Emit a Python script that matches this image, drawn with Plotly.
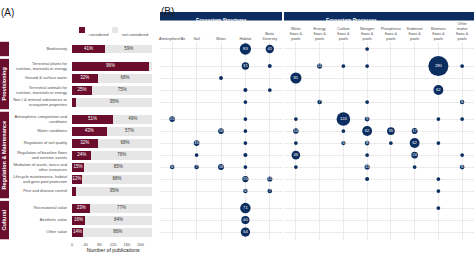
import math
import plotly.graph_objects as go

# ---------------- data ----------------
categories = [
    "Biodiversity",
    "Terrestrial plants for<br>nutrition, materials or energy",
    "Ground & surface water",
    "Terrestrial animals for<br>nutrition, materials or energy",
    "Non-/ & mineral substances or<br>ecosystem properties",
    "Atmospheric composition and<br>conditions",
    "Water conditions",
    "Regulation of soil quality",
    "Regulation of baseline flows<br>and extreme events",
    "Mediation of waste, toxics and<br>other nuisances",
    "Lifecycle maintenance, habitat<br>and gene pool protection",
    "Pest and disease control",
    "Recreational value",
    "Aesthetic value",
    "Other value",
]
groups = [0, 1, 1, 1, 1, 2, 2, 2, 2, 2, 2, 2, 3, 3, 3]
group_names = ["", "Provisioning", "Regulation & Maintenance", "Cultural"]
considered_pct = [41, 96, 32, 25, 5, 51, 43, 32, 24, 15, 12, 5, 23, 16, 14]
total_publications = 234
x_ticks = [0, 40, 80, 120, 160, 200]

structure_cols = ["Atmosphere/Air", "Soil", "Water", "Habitat", "Biotic<br>Diversity"]
process_cols = ["Water<br>flows &<br>pools", "Energy<br>flows &<br>pools", "Carbon<br>flows &<br>pools",
                "Nitrogen<br>flows &<br>pools", "Phosphorus<br>flows &<br>pools", "Sediment<br>flows &<br>pools",
                "Biomass<br>flows &<br>pools", "Other<br>matter<br>flows &<br>pools"]

# counts: rows = categories, columns = structure_cols + process_cols
counts = [
    [0, 0, 0, 83, 41, 0, 0, 0, 2, 0, 0, 0, 0],
    [0, 0, 0, 31, 3, 0, 11, 2, 2, 0, 0, 280, 2],
    [0, 0, 3, 0, 0, 81, 0, 0, 0, 0, 0, 0, 0],
    [0, 0, 0, 4, 2, 0, 0, 0, 0, 0, 0, 62, 0],
    [0, 0, 0, 2, 0, 0, 7, 0, 2, 0, 0, 0, 6],
    [15, 0, 0, 2, 0, 2, 0, 124, 9, 0, 0, 2, 2],
    [0, 0, 16, 2, 0, 14, 0, 2, 62, 35, 17, 0, 0],
    [0, 15, 0, 2, 0, 2, 0, 5, 8, 2, 62, 2, 0],
    [0, 2, 0, 4, 0, 46, 0, 0, 2, 0, 24, 0, 2],
    [6, 7, 18, 2, 0, 2, 0, 0, 11, 0, 2, 0, 8],
    [0, 0, 0, 20, 11, 0, 0, 0, 4, 0, 0, 2, 0],
    [0, 0, 0, 6, 7, 0, 0, 0, 0, 0, 0, 2, 0],
    [0, 0, 0, 71, 0, 0, 0, 0, 0, 0, 0, 2, 0],
    [0, 0, 0, 40, 0, 0, 0, 0, 0, 0, 0, 0, 0],
    [0, 0, 0, 54, 0, 0, 0, 0, 0, 0, 0, 0, 0],
]

# ---------------- style ----------------
W, H = 474, 253
MAROON = "#6b0d2c"
GREY = "#e6e6e6"
NAVY = "#0b2d5f"
FONT = "Liberation Sans, Arial, sans-serif"
TXT = "#4d4d4d"

def xp(px):
    return px / W

def yp(py):
    return 1 - py / H

GAP = 0.42
row_pos = [i + GAP * g for i, g in enumerate(groups)]
y_range = [15.92, -0.583]
y_dom = [yp(240), yp(42)]

def y_to_paper(v):
    return y_dom[0] + (y_range[0] - v) / (y_range[0] - y_range[1]) * (y_dom[1] - y_dom[0])

considered = [p / 100 * total_publications for p in considered_pct]
not_considered = [total_publications - c for c in considered]

fig = go.Figure()

fig.add_trace(go.Bar(x=considered, y=row_pos, orientation="h", marker=dict(color=MAROON, line=dict(width=0)),
                     width=0.75, xaxis="x", yaxis="y", showlegend=False, hoverinfo="skip"))
fig.add_trace(go.Bar(x=not_considered, y=row_pos, orientation="h", marker=dict(color=GREY, line=dict(width=0)),
                     width=0.75, xaxis="x", yaxis="y", showlegend=False, hoverinfo="skip"))

# bar labels
cx, cy, ct, nx, ny, nt = [], [], [], [], [], []
for p, c, n, y in zip(considered_pct, considered, not_considered, row_pos):
    if p >= 10:
        cx.append(c / 2); cy.append(y); ct.append(f"{p}%")
    if 100 - p >= 10:
        nx.append(c + n / 2); ny.append(y); nt.append(f"{100 - p}%")
fig.add_trace(go.Scatter(x=cx, y=cy, text=ct, mode="text", textfont=dict(size=4.5, color="white", family=FONT),
                         xaxis="x", yaxis="y", showlegend=False, hoverinfo="skip"))
fig.add_trace(go.Scatter(x=nx, y=ny, text=nt, mode="text", textfont=dict(size=4.5, color="#333333", family=FONT),
                         xaxis="x", yaxis="y", showlegend=False, hoverinfo="skip"))

# bubbles
def bubble_trace(col_offset, ncols, xa, ya):
    bx, by, bs, bt = [], [], [], []
    for r, row in enumerate(counts):
        for j in range(ncols):
            v = row[col_offset + j]
            if v > 0:
                bx.append(j + 1); by.append(row_pos[r])
                bs.append(math.sqrt(11 + 1.4 * v))
                bt.append(str(v) if v >= 5 else "")
    return go.Scatter(x=bx, y=by, mode="markers+text", text=bt, textposition="middle center",
                      textfont=dict(size=4.2, color="white", family=FONT),
                      marker=dict(size=bs, sizemode="diameter", color=NAVY, opacity=1, line=dict(width=0)),
                      xaxis=xa, yaxis=ya, showlegend=False, hoverinfo="skip")

fig.add_trace(bubble_trace(0, len(structure_cols), "x2", "y2"))
fig.add_trace(bubble_trace(len(structure_cols), len(process_cols), "x3", "y3"))

grid = "#ebebeb"
col_font = dict(size=3.8, color=TXT, family=FONT)
fig.update_layout(
    width=W, height=H, margin=dict(l=0, r=0, t=0, b=0),
    paper_bgcolor="white", plot_bgcolor="white", barmode="stack", bargap=0,
    font=dict(family=FONT),
    xaxis=dict(domain=[xp(72), xp(154.4)], range=[0, 240], anchor="y", tickvals=x_ticks,
               tickfont=dict(size=4, color=TXT, family=FONT), showgrid=False, zeroline=False,
               showline=False, ticks="", ticklabelstandoff=1,
               title=dict(text="Number of publications", font=dict(size=5.2, color="#1a1a1a", family=FONT), standoff=0)),
    yaxis=dict(domain=y_dom, range=y_range, anchor="x", tickvals=row_pos, ticktext=categories,
               tickfont=dict(size=4, color=TXT, family=FONT), showgrid=False, zeroline=False,
               showline=False, ticks="", ticklabelstandoff=4),
    xaxis2=dict(domain=[xp(160), xp(282)], range=[0.5, 5.5], anchor="y2", side="top",
                tickvals=list(range(1, len(structure_cols) + 1)), ticktext=structure_cols,
                tickfont=col_font, showgrid=True, gridcolor=grid, gridwidth=0.6, zeroline=False,
                showline=False, ticks="", ticklabelstandoff=0),
    yaxis2=dict(domain=y_dom, range=y_range, anchor="x2", tickvals=row_pos, showticklabels=False,
                showgrid=True, gridcolor=grid, gridwidth=0.6, zeroline=False, ticks=""),
    xaxis3=dict(domain=[xp(284), 1], range=[0.5, 8.5], anchor="y3", side="top",
                tickvals=list(range(1, len(process_cols) + 1)), ticktext=process_cols,
                tickfont=col_font, showgrid=True, gridcolor=grid, gridwidth=0.6, zeroline=False,
                showline=False, ticks="", ticklabelstandoff=0),
    yaxis3=dict(domain=y_dom, range=y_range, anchor="x3", tickvals=row_pos, showticklabels=False,
                showgrid=True, gridcolor=grid, gridwidth=0.6, zeroline=False, ticks=""),
)

shapes, annotations = [], []
# left strips
for g, name in enumerate(group_names):
    ys = [p for p, gg in zip(row_pos, groups) if gg == g]
    y0, y1 = y_to_paper(max(ys) + 0.6), y_to_paper(min(ys) - 0.6)
    shapes.append(dict(type="rect", xref="paper", yref="paper", x0=0, x1=xp(9), y0=y0, y1=y1,
                       fillcolor=MAROON, line=dict(width=0)))
    if name:
        annotations.append(dict(xref="paper", yref="paper", x=xp(4.5), y=(y0 + y1) / 2, text=f"<b>{name}</b>",
                                xanchor="center", yanchor="middle",
                                showarrow=False, textangle=-90, font=dict(size=5.5, color="white", family=FONT)))
# top strips
for x0, x1, name in [(160, 282, "Ecosystem Structures"), (284, 474, "Ecosystem Processes")]:
    shapes.append(dict(type="rect", xref="paper", yref="paper", x0=xp(x0), x1=xp(x1), y0=yp(20.5), y1=yp(12),
                       fillcolor=NAVY, line=dict(width=0)))
    annotations.append(dict(xref="paper", yref="paper", x=xp((x0 + x1) / 2), y=yp(16.3), text=f"<b>{name}</b>",
                            showarrow=False, font=dict(size=4.8, color="white", family=FONT)))
# legend
for x0, color, label in [(79, MAROON, "considered"), (112, GREY, "not considered")]:
    shapes.append(dict(type="rect", xref="paper", yref="paper", x0=xp(x0), x1=xp(x0 + 6), y0=yp(33), y1=yp(27),
                       fillcolor=color, line=dict(width=0)))
    annotations.append(dict(xref="paper", yref="paper", x=xp(x0 + 8), y=yp(30), text=label, xanchor="left",
                            showarrow=False, font=dict(size=4, color=TXT, family=FONT)))
# panel titles
annotations.append(dict(xref="paper", yref="paper", x=xp(-1), y=yp(5), text="(A)", xanchor="left",
                        showarrow=False, font=dict(size=10, color="#1a1a1a", family=FONT)))
annotations.append(dict(xref="paper", yref="paper", x=xp(159), y=yp(4), text="(B)", xanchor="left",
                        showarrow=False, font=dict(size=10, color="#1a1a1a", family=FONT)))

fig.update_layout(shapes=shapes, annotations=annotations)
fig.write_html("out.html")
